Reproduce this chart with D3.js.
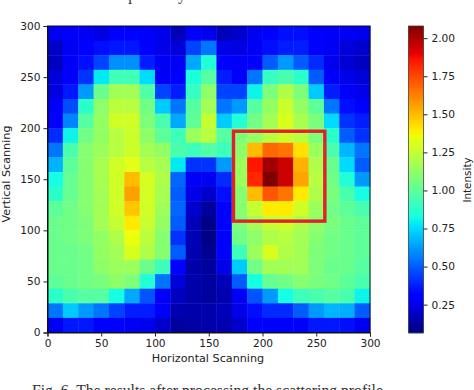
<!DOCTYPE html>
<html>
<head>
<meta charset="utf-8">
<script src="https://cdn.jsdelivr.net/npm/d3@7"></script>
<style>
  html, body { margin: 0; padding: 0; background: #fff; }
  text { font-family: "DejaVu Sans", sans-serif; fill: #222; }
  .tick line { stroke: #222; }
  .domain { stroke: #111; }
</style>
</head>
<body>
<div id="chart"></div>
<script>
// intensity cells, one array per row, top row first
var row20 = [.27,.28,.27,.24,.30,.29,.28,.25,.17,.28,.26,.17,.20,.27,.33,.34,.34,.29,.28,.27,.26];
var row19 = [.19,.27,.32,.35,.36,.36,.29,.25,.22,.45,.55,.25,.24,.27,.34,.38,.38,.31,.27,.22,.20];
var row18 = [.18,.28,.34,.45,.60,.60,.38,.27,.27,.65,.85,.30,.28,.29,.50,.62,.50,.40,.26,.21,.18];
var row17 = [.22,.28,.42,.78,.93,.93,.75,.28,.30,.84,.98,.38,.28,.55,.90,.95,.88,.50,.28,.25,.22];
var row16 = [.24,.36,.62,1.03,1.17,1.17,.97,.45,.38,.90,1.12,.45,.45,.80,1.08,1.20,1.08,.72,.38,.28,.25];
var row15 = [.28,.47,.88,1.12,1.23,1.22,1.05,.72,.55,.98,1.17,.55,.62,.98,1.13,1.27,1.13,1.00,.55,.35,.29];
var row14 = [.33,.58,.98,1.13,1.28,1.28,1.08,.95,.65,1.00,1.25,.72,.85,1.05,1.17,1.30,1.18,1.07,.75,.42,.37];
var row13 = [.40,.80,1.05,1.13,1.22,1.27,1.12,1.00,.92,1.15,1.22,.98,1.08,1.13,1.22,1.27,1.22,1.08,.88,.50,.42];
var row12 = [.55,.95,1.10,1.15,1.22,1.27,1.17,1.13,.95,.92,.97,.92,1.12,1.50,1.68,1.65,1.42,1.15,.95,.68,.55];
var row11 = [.67,1.00,1.10,1.18,1.28,1.33,1.22,1.18,.78,.42,.42,.62,1.15,1.85,2.02,1.95,1.52,1.20,1.03,.75,.50];
var row10 = [.82,1.02,1.10,1.18,1.28,1.50,1.29,1.20,.52,.28,.27,.40,1.15,1.82,2.08,1.95,1.55,1.22,1.05,.85,.62];
var row9  = [.88,1.02,1.10,1.17,1.28,1.56,1.29,1.18,.50,.25,.20,.35,1.10,1.50,1.72,1.65,1.40,1.20,1.07,.95,.82];
var row8  = [1.00,1.05,1.10,1.17,1.28,1.48,1.28,1.16,.52,.20,.12,.33,1.10,1.25,1.40,1.40,1.28,1.15,1.05,1.00,.95];
var row7  = [1.03,1.05,1.08,1.17,1.25,1.40,1.26,1.13,.50,.17,.08,.33,1.08,1.17,1.25,1.27,1.20,1.12,1.07,1.03,1.00];
var row6  = [1.03,1.05,1.08,1.13,1.20,1.35,1.23,1.10,.42,.16,.08,.33,1.05,1.12,1.20,1.22,1.17,1.10,1.05,1.03,1.00];
var row5  = [1.03,1.03,1.05,1.13,1.17,1.30,1.20,1.10,.50,.15,.10,.30,.92,1.15,1.30,1.20,1.17,1.08,1.05,1.03,1.00];
var row4  = [1.03,1.03,1.05,1.12,1.15,1.15,1.03,.92,.30,.14,.12,.25,.72,1.05,1.17,1.17,1.17,1.08,1.03,1.03,.98];
var row3  = [1.00,1.03,1.05,1.07,1.12,1.08,.85,.55,.22,.14,.12,.17,.50,.83,1.02,1.05,1.10,1.07,1.05,1.00,.95];
var row2  = [.88,.95,.98,.98,.82,.65,.48,.28,.18,.14,.12,.15,.27,.48,.62,.82,.92,.95,.98,.95,.80];
var row1  = [.55,.72,.62,.55,.45,.38,.38,.28,.15,.14,.14,.17,.25,.35,.40,.40,.50,.62,.68,.66,.50];
var row0  = [.27,.36,.36,.33,.30,.27,.26,.20,.12,.13,.14,.15,.20,.29,.33,.33,.33,.36,.36,.34,.27];
var rows = [row20,row19,row18,row17,row16,row15,row14,row13,row12,row11,row10,row9,row8,row7,row6,row5,row4,row3,row2,row1,row0];

var xTicks = [0,50,100,150,200,250,300];
var yTicks = [0,50,100,150,200,250,300];
var barTicks = [0.25,0.50,0.75,1.00,1.25,1.50,1.75,2.00];
var boxX = [173,258];
var boxY = [109,197];
var vMin = 0.067, vMax = 2.08;
var caption = "Fig. 6. The results after processing the scattering profile.";
var topLine = "respectively";

var width = 474, height = 390;
var left = 47.5, right = 370, top_ = 26, bottom = 332.5;
var barLeft = 408.5, barRight = 423.5;

// matplotlib jet channels
var jetR = d3.scaleLinear().domain([0,.35,.66,.89,1]).range([0,0,255,255,128]).clamp(true);
var jetG = d3.scaleLinear().domain([0,.125,.375,.64,.91,1]).range([0,0,255,255,0,0]).clamp(true);
var jetB = d3.scaleLinear().domain([0,.11,.34,.65,1]).range([128,255,255,0,0]).clamp(true);
function jet(t) {
  return d3.rgb(jetR(t), jetG(t), jetB(t)).formatRgb();
}

var svg = d3.select("#chart").append("svg")
  .attr("width", width).attr("height", height)
  .style("display", "block");

// the scan looks slightly soft in the original
svg.append("filter").attr("id", "soft")
  .append("feGaussianBlur").attr("stdDeviation", 0.5);

var x = d3.scaleLinear().domain([0,300]).range([left,right]);
var y = d3.scaleLinear().domain([0,300]).range([bottom,top_]);
var color = d3.scaleSequential(jet).domain([vMin,vMax]);

var colBand = d3.scaleBand().domain(d3.range(21)).range([left,right]);
var rowBand = d3.scaleBand().domain(d3.range(21)).range([top_,bottom]);

svg.append("g").attr("filter", "url(#soft)").selectAll("g")
  .data(rows)
  .enter().append("g")
  .each(function(row, r){
    d3.select(this).selectAll("rect")
      .data(row)
      .enter().append("rect")
      .attr("x", function(d,c){ return colBand(c); })
      .attr("y", rowBand(r))
      .attr("width", colBand.bandwidth()+0.4)
      .attr("height", rowBand.bandwidth()+0.4)
      .attr("fill", function(d){ return color(d); });
  });

// red region
svg.append("rect")
  .attr("x", x(boxX[0])).attr("y", y(boxY[1]))
  .attr("width", x(boxX[1])-x(boxX[0]))
  .attr("height", y(boxY[0])-y(boxY[1]))
  .attr("fill", "none").attr("stroke", "#e0202e").attr("stroke-width", 3.4);

var xAxis = svg.append("g").attr("transform", "translate(0,"+bottom+")")
  .call(d3.axisBottom(x).tickValues(xTicks).tickSize(4).tickPadding(3).tickFormat(d3.format("d")));
var yAxis = svg.append("g").attr("transform", "translate("+left+",0)")
  .call(d3.axisLeft(y).tickValues(yTicks).tickSize(4).tickPadding(3).tickFormat(d3.format("d")));
[xAxis,yAxis].forEach(function(a){ a.selectAll("text").style("font-size","10.6px"); });

svg.append("rect").attr("x",left).attr("y",top_).attr("width",right-left).attr("height",bottom-top_)
  .attr("fill","none").attr("stroke","#111").attr("stroke-width",1);

svg.append("text").attr("x",208).attr("y",362).attr("text-anchor","middle")
  .style("font-size","11.2px").text("Horizontal Scanning");
svg.append("text").attr("transform","translate(10,174) rotate(-90)").attr("text-anchor","middle")
  .style("font-size","11.2px").text("Vertical Scanning");

// colorbar
var barY = d3.scaleLinear().domain([vMin,vMax]).range([bottom,top_]);
svg.append("g").selectAll("rect")
  .data(d3.range(bottom-top_))
  .enter().append("rect")
  .attr("x",barLeft).attr("width",barRight-barLeft)
  .attr("y",function(d){ return top_+d; }).attr("height",1.4)
  .attr("fill",function(d){ return color(barY.invert(top_+d+0.5)); });
svg.append("rect").attr("x",barLeft).attr("y",top_).attr("width",barRight-barLeft).attr("height",bottom-top_)
  .attr("fill","none").attr("stroke","#333").attr("stroke-width",0.7);
var barAxis = svg.append("g").attr("transform","translate("+barRight+",0)")
  .call(d3.axisRight(barY).tickValues(barTicks).tickSize(4).tickPadding(4).tickFormat(d3.format(".2f")));
barAxis.select(".domain").remove();
barAxis.selectAll("text").style("font-size","10.6px");
svg.append("text").attr("transform","translate(471,180) rotate(-90)").attr("text-anchor","middle")
  .style("font-size","10.4px").text("Intensity");

// caption, cut by the lower edge, and the line above the chart, cut by the upper edge
svg.append("text").attr("x",32).attr("y",396).style("font-family","'Liberation Serif', serif").style("font-size","15.7px").style("fill","#333").text(caption);
svg.append("text").attr("x",110).attr("y",-0.5).style("font-family","'Liberation Serif', serif").style("font-size","15.7px").style("fill","#333").text(topLine);
</script>
</body>
</html>
